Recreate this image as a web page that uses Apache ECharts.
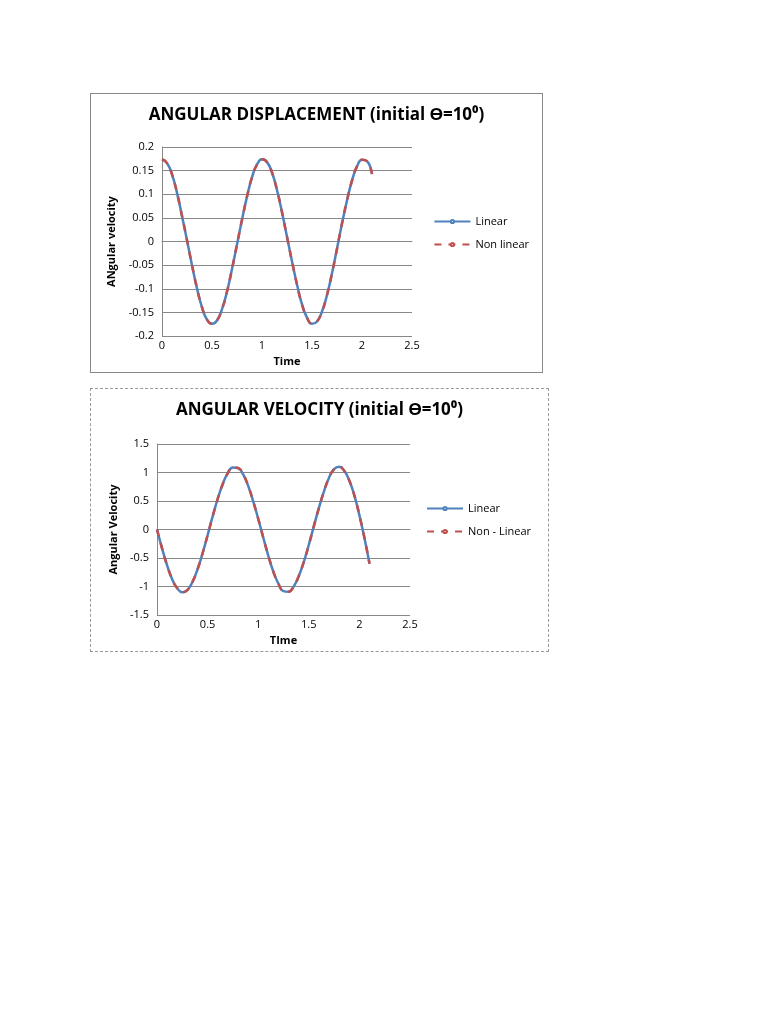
<!DOCTYPE html>
<html><head><meta charset="utf-8">
<script src="https://cdn.jsdelivr.net/npm/echarts@6/dist/echarts.min.js"></script>
<style>
body{margin:0;background:#fff;width:768px;height:1024px;position:relative;}
#c1{position:absolute;left:90px;top:93px;width:453px;height:280px;border:1px solid #888;box-sizing:border-box;}
#c2{position:absolute;left:90px;top:388px;width:459px;height:264px;border:1px dashed #999;box-sizing:border-box;}
</style></head><body>
<div id="c1"></div><div id="c2"></div>
<script>
const time=[0,0.05,0.1,0.15,0.2,0.25,0.3,0.35,0.4,0.45,0.5,0.55,0.6,0.65,0.7,0.75,0.8,0.85,0.9,0.95,1.0,1.05,1.1,1.15,1.2,1.25,1.3,1.35,1.4,1.45,1.5,1.55,1.6,1.65,1.7,1.75,1.8,1.85,1.9,1.95,2.0,2.05,2.1];
const dispLinear=[0.174,0.166,0.142,0.103,0.054,0.003,-0.05,-0.099,-0.139,-0.165,-0.174,-0.167,-0.143,-0.106,-0.058,-0.006,0.046,0.095,0.136,0.163,0.174,0.168,0.146,0.109,0.062,0.01,-0.042,-0.091,-0.133,-0.161,-0.174,-0.169,-0.148,-0.113,-0.067,-0.015,0.038,0.087,0.129,0.159,0.173,0.17,0.143];
const dispNonLinear=dispLinear.slice();
const velLinear=[0,-0.33,-0.63,-0.87,-1.03,-1.1,-1.06,-0.92,-0.7,-0.42,-0.1,0.23,0.54,0.8,0.99,1.09,1.08,0.97,0.77,0.5,0.19,-0.14,-0.46,-0.74,-0.95,-1.08,-1.09,-1.0,-0.82,-0.57,-0.27,0.06,0.38,0.67,0.91,1.06,1.1,1.03,0.86,0.6,0.25,-0.15,-0.6];
const velNonLinear=velLinear.slice();
const F='"Open Sans", "Liberation Sans", sans-serif';
function opt(title,yName,xName,yMin,yMax,yInt,lin,non,names,grid){
  const pair=a=>time.map((t,i)=>[t,a[i]]);
  return {animation:false,
    title:{text:title,left:'center',top:8,textStyle:{fontFamily:F,fontSize:17,fontWeight:'bold',color:'#000'}},
    legend:{orient:'vertical',right:grid.legendRight,top:'middle',itemGap:12,itemWidth:36,itemHeight:4,
      textStyle:{fontFamily:F,fontSize:11,color:'#000'},data:names},
    grid:{left:grid.left,top:grid.top,width:grid.width,height:grid.height,containLabel:false},
    xAxis:{type:'value',min:0,max:2.5,interval:0.5,name:xName,nameLocation:'middle',nameGap:grid.xNameGap,
      nameTextStyle:{fontFamily:F,fontSize:11,fontWeight:'bold',color:'#000'},
      axisLine:{onZero:true,lineStyle:{color:'#888'}},axisTick:{show:false},splitLine:{show:false},
      axisLabel:{fontFamily:F,fontSize:11,color:'#000',margin:4,formatter:v=>String(v)}},
    yAxis:{type:'value',min:yMin,max:yMax,interval:yInt,name:yName,nameLocation:'middle',nameGap:grid.yNameGap,
      nameTextStyle:{fontFamily:F,fontSize:11,fontWeight:'bold',color:'#000'},
      axisLine:{show:true,lineStyle:{color:'#888'}},axisTick:{show:false},
      splitLine:{lineStyle:{color:'#888'}},axisLabel:{fontFamily:F,fontSize:11,color:'#000',margin:8}},
    series:[
      {name:names[0],type:'line',data:pair(lin),smooth:true,showSymbol:false,lineStyle:{color:'#4F81BD',width:2.5},itemStyle:{color:'#4F81BD'}},
      {name:names[1],type:'line',data:pair(non),smooth:true,showSymbol:false,lineStyle:{color:'#C0504D',width:2.5,type:[7,7]},itemStyle:{color:'#C0504D'}}
    ]};
}
const c1=echarts.init(document.getElementById('c1'));
c1.setOption(opt('ANGULAR DISPLACEMENT (initial Ɵ=10⁰)','ANgular velocity','Time',-0.2,0.2,0.05,dispLinear,dispNonLinear,['Linear','Non linear'],
  {left:71,top:53,width:250,height:190,legendRight:8,xNameGap:-85,yNameGap:40}));
const c2=echarts.init(document.getElementById('c2'));
c2.setOption(opt('ANGULAR VELOCITY (initial Ɵ=10⁰)','Angular Velocity','TIme',-1.5,1.5,0.5,velLinear,velNonLinear,['Linear','Non - Linear'],
  {left:66,top:55,width:253,height:172,legendRight:12,xNameGap:-78,yNameGap:35}));
</script></body></html>
